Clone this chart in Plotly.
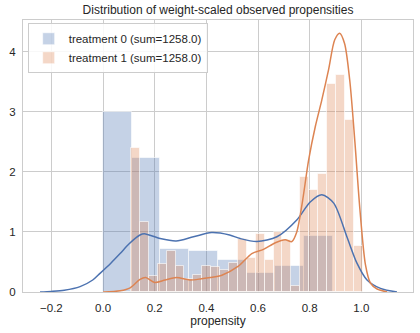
import plotly.graph_objects as go

# Histogram densities (bin left edge, bin width, density)
t0_bin_left = [0.0, 0.1111, 0.2222, 0.3333, 0.4444, 0.5556, 0.6667, 0.7778]
t0_bin_width = 0.1111
t0_density = [3.00, 2.24, 0.71, 0.69, 0.54, 0.31, 0.43, 0.93]

t1_bin_start = 0.108
t1_bin_width = 0.0345
t1_density = [2.40, 1.17, 0.27, 0.46, 0.69, 0.44, 0.22, 0.29, 0.44, 0.41,
              0.37, 0.49, 0.89, 0.56, 0.97, 0.53, 1.00, 0.87, 0.10, 1.91,
              1.70, 1.96, 3.46, 3.61, 2.86, 0.77]

# Kernel density estimates
t0_kde_x = [-0.244, -0.2, -0.15, -0.089, -0.04, -0.012, 0.03, 0.066, 0.10, 0.143,
            0.16, 0.221, 0.283, 0.35, 0.42, 0.49, 0.531, 0.596, 0.673, 0.75,
            0.802, 0.847, 0.893, 0.944, 0.983, 1.022, 1.074, 1.138]
t0_kde_y = [0.0, 0.01, 0.03, 0.09, 0.2, 0.31, 0.48, 0.64, 0.80, 0.95,
            0.97, 0.89, 0.85, 0.92, 0.99, 0.95, 0.89, 0.84, 0.92, 1.2,
            1.50, 1.62, 1.48, 0.92, 0.48, 0.2, 0.06, 0.0]

t1_kde_x = [0.0, 0.066, 0.105, 0.143, 0.165, 0.2, 0.24, 0.284, 0.336, 0.381,
            0.415, 0.46, 0.524, 0.576, 0.621, 0.667, 0.705, 0.731, 0.75, 0.77,
            0.796, 0.822, 0.847, 0.873, 0.897, 0.916, 0.935, 0.955, 0.975, 0.994,
            1.016, 1.035, 1.061, 1.1]
t1_kde_y = [0.0, 0.02, 0.07, 0.21, 0.24, 0.16, 0.2, 0.24, 0.2, 0.22,
            0.24, 0.28, 0.43, 0.64, 0.71, 0.82, 0.87, 0.84, 1.0, 1.45,
            2.2, 2.76, 3.2, 3.7, 4.2, 4.31, 4.14, 3.53, 2.5, 1.4,
            0.45, 0.15, 0.05, 0.0]

labels = ["treatment 0 (sum=1258.0)", "treatment 1 (sum=1258.0)"]
x_ticks = [-0.2, 0.0, 0.2, 0.4, 0.6, 0.8, 1.0]
y_ticks = [0, 1, 2, 3, 4]

BLUE = "#4c72b0"
ORANGE = "#dd8452"
FONT = "Liberation Sans, Arial, sans-serif"
TEXT = "#262626"

t0_centers = [b + t0_bin_width / 2 for b in t0_bin_left]
t1_centers = [t1_bin_start + (i + 0.5) * t1_bin_width for i in range(len(t1_density))]

fig = go.Figure()
fig.add_trace(go.Bar(
    x=t0_centers, y=t0_density, width=[t0_bin_width] * len(t0_density),
    marker=dict(color="rgba(76,114,176,0.32)", line=dict(color="rgba(255,255,255,0.6)", width=1)),
    name=labels[0]))
fig.add_trace(go.Bar(
    x=t1_centers, y=t1_density, width=[t1_bin_width] * len(t1_density),
    marker=dict(color="rgba(221,132,82,0.32)", line=dict(color="rgba(255,255,255,0.6)", width=1)),
    name=labels[1]))
fig.add_trace(go.Scatter(
    x=t0_kde_x, y=t0_kde_y, mode="lines", line=dict(color=BLUE, width=1.5, shape="spline", smoothing=0.8),
    showlegend=False, hoverinfo="skip"))
fig.add_trace(go.Scatter(
    x=t1_kde_x, y=t1_kde_y, mode="lines", line=dict(color=ORANGE, width=1.5, shape="spline", smoothing=0.8),
    showlegend=False, hoverinfo="skip"))

axis_common = dict(
    showgrid=True, gridcolor="#cccccc", gridwidth=1,
    showline=True, linecolor="#cccccc", linewidth=1, mirror=True,
    zeroline=False, ticks="", tickfont=dict(family=FONT, size=11.5, color=TEXT),
)

fig.update_layout(
    width=420, height=333,
    margin=dict(l=23, r=7, t=20, b=41),
    paper_bgcolor="white", plot_bgcolor="white",
    barmode="overlay", bargap=0,
    title=dict(text="Distribution of weight-scaled observed propensities",
               x=0.5, xanchor="center", y=0.97, yanchor="middle",
               xref="paper",
               font=dict(family=FONT, size=12, color=TEXT)),
    legend=dict(x=0.012, y=0.988, xanchor="left", yanchor="top",
                bgcolor="rgba(255,255,255,0.85)", bordercolor="#cccccc", borderwidth=1,
                font=dict(family=FONT, size=11.5, color=TEXT),
                itemwidth=30, tracegroupgap=0),
    xaxis=dict(range=[-0.31, 1.2], tickvals=x_ticks, tickformat=".1f", ticklabelstandoff=5,
               title=dict(text="propensity", font=dict(family=FONT, size=12, color=TEXT), standoff=2),
               **axis_common),
    yaxis=dict(range=[0, 4.53], tickvals=y_ticks, ticklabelstandoff=4, **axis_common),
)

fig.write_html("out.html")
